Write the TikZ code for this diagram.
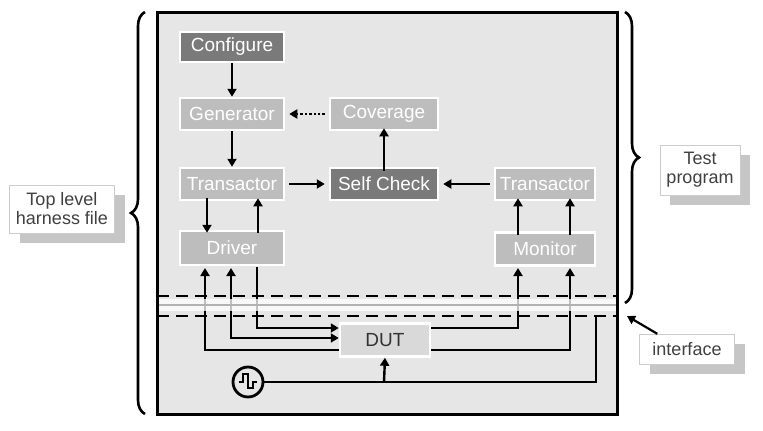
\documentclass[tikz,border=0pt]{standalone}
\usepackage{fontspec}
\setmainfont{Liberation Sans}
\usetikzlibrary{arrows.meta,decorations.pathreplacing}
\definecolor{bgc}{HTML}{E6E6E6}
\definecolor{lightbox}{HTML}{BDBDBD}
\definecolor{darkbox}{HTML}{7A7A7A}
\tikzset{
 blk/.style={draw=white,line width=2.5pt,text=white,font=\fontsize{19}{21}\selectfont,inner sep=0pt},
 lbox/.style={blk,fill=lightbox},
 dbox/.style={blk,fill=darkbox},
 arr/.style={line width=2.4pt,-{Triangle[length=8pt,width=9pt]}},
 ln/.style={line width=2.4pt},
 note/.style={draw=gray!40,fill=white,font=\fontsize{18}{19}\selectfont,text=black!75,align=center,inner sep=0pt},
 shadow/.style={fill=gray!45},
 brace/.style={decorate,decoration={brace,amplitude=14pt},line width=2.6pt}
}
\begin{document}
\begin{tikzpicture}[x=1pt,y=-1pt]
\useasboundingbox (0,0) rectangle (763,431);
% main box
\fill[bgc] (157,12) rectangle (617,414);
% blocks
\node[dbox,minimum width=104,minimum height=30] (cfg) at (232,47) {Configure};
\node[lbox,minimum width=104,minimum height=32] (gen) at (232,114) {Generator};
\node[lbox,minimum width=108,minimum height=32] (cov) at (384,114) {Coverage};
\node[lbox,minimum width=104,minimum height=32] (trl) at (232,184) {Transactor};
\node[dbox,minimum width=108,minimum height=32] (sc) at (384,184) {Self Check};
\node[lbox,minimum width=100,minimum height=32] (trr) at (545,184) {Transactor};
\node[lbox,minimum width=104,minimum height=34] (drv) at (232,248) {Driver};
\node[lbox,minimum width=100,minimum height=33] (mon) at (545,249) {Monitor};
\node[blk,fill=gray!30,text=black!80,minimum width=90,minimum height=33] (dut) at (385,340) {DUT};
\node[draw,line width=2.8pt,circle,minimum size=30,inner sep=0pt,fill=bgc] (clk) at (248,382) {};
\draw[line width=2.6pt] ([xshift=-9]clk.center) -- ++(4,0) -- ++(0,-8) -- ++(5,0) -- ++(0,14) -- ++(5,0) -- ++(0,-6) -- ++(4,0);
% upper arrows
\draw[arr] (cfg.south) -- (gen.north);
\draw[arr] (gen.south) -- (trl.north);
\draw[line width=2.4pt,dotted,-{Triangle[length=8pt,width=9pt]}] (cov.west) ++(-4,0) -- ([xshift=4]gen.east);
\draw[arr] ([yshift=-4]sc.north) -- ([yshift=3]cov.south);
\draw[arr] ([xshift=4]trl.east) -- ([xshift=-4]sc.west);
\draw[arr] ([xshift=-4]trr.west) -- ([xshift=4]sc.east);
\draw[arr] ([xshift=-25,yshift=3]trl.south) -- ([xshift=-25,yshift=-3]drv.north);
\draw[arr] ([xshift=26,yshift=-3]drv.north) -- ([xshift=26,yshift=3]trl.south);
\draw[arr] ([xshift=-27,yshift=-4]mon.north) -- ([xshift=-27,yshift=3]trr.south);
\draw[arr] ([xshift=25,yshift=-4]mon.north) -- ([xshift=25,yshift=3]trr.south);
% lower connections
\coordinate (d1) at (205,350); \coordinate (d2) at (231,338); \coordinate (d3) at (257,328);
\draw[ln,-{Triangle[length=8pt,width=9pt]}] (dut.west |- d1) -- (d1) -- (205,268);
\draw[ln,{Triangle[length=8pt,width=9pt]}-{Triangle[length=8pt,width=9pt]}] (231,268) -- (d2) -- (dut.west |- d2);
\draw[arr] (257,267) -- (d3) -- (dut.west |- d3);
\draw[arr] (dut.east |- 0,328) -- (518,328) -- (518,268);
\draw[arr] (dut.east |- 0,350) -- (570,350) -- (570,268);
\draw[ln] (clk.east) -- (596,382) -- (596,316);
\draw[arr] (384,382) -- (dut.south);
% interface band
\fill[white,opacity=0.75] (157,299) rectangle (617,311);
\draw[gray!60,line width=2pt] (157,305) -- (617,305);
\draw[line width=2.6pt,dash pattern=on 12pt off 7pt] (157,296) -- (617,296);
\draw[line width=2.6pt,dash pattern=on 12pt off 7pt] (157,316) -- (617,316);
\draw[line width=3pt] (157,12) rectangle (617,414);
% braces
\draw[brace] (145,414) -- (145,12);
\draw[brace] (625,12) -- (625,303);
% notes
\fill[shadow] (20,195) rectangle (125,243);
\node[note,minimum width=105,minimum height=48] (top) at (62,209) {Top level\\harness file};
\fill[shadow] (670,155) rectangle (750,205);
\node[note,minimum width=80,minimum height=50] (tp) at (700,170) {Test\\program};
\fill[shadow] (650,344) rectangle (745,374);
\node[note,minimum width=95,minimum height=30] (ifc) at (687,349) {interface};
\coordinate (ifp) at (627,316);
\draw[line width=2.2pt,-{Triangle[length=8pt,width=9pt]}] (ifc.north west) ++(18,0) -- (ifp);
\end{tikzpicture}
\end{document}
